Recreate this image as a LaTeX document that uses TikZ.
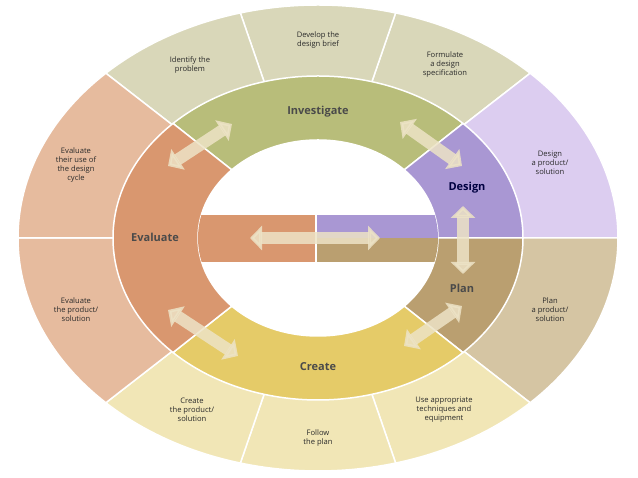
\documentclass[tikz,border=0pt]{standalone}
\usepackage{fontspec}
\setmainfont{Open Sans}
\usetikzlibrary{arrows.meta,calc}
\definecolor{otop}{HTML}{D9D7B9}
\definecolor{odes}{HTML}{DCCDF0}
\definecolor{opla}{HTML}{D5C5A3}
\definecolor{obot}{HTML}{F1E6B6}
\definecolor{oeva}{HTML}{E6BB9E}
\definecolor{minv}{HTML}{B8BD7A}
\definecolor{mdes}{HTML}{A997D3}
\definecolor{mpla}{HTML}{BA9F70}
\definecolor{mcre}{HTML}{E5CB68}
\definecolor{meva}{HTML}{D9976F}
\definecolor{arrc}{HTML}{EDE3C6}
\definecolor{txt}{HTML}{2A2A2A}
\tikzset{
 small/.style={font=\fontsize{7.6}{9}\selectfont,text=txt,align=center},
 big/.style={font=\fontsize{11}{13}\selectfont\bfseries,text=txt!85},
 arr/.style={draw=arrc,line width=12pt,opacity=0.85,{Triangle[width=24pt,length=12pt]}-{Triangle[width=24pt,length=12pt]}},
 sep/.style={draw=white,line width=1.5pt}
}
\newcommand{\wedgeo}[3]{\fill[#3,sep] (C) -- ++(#1:300pt and 233pt) arc[start angle=#1,end angle=#2,x radius=300pt,y radius=233pt] -- cycle;}
\newcommand{\wedgem}[3]{\fill[#3,sep] (C) -- ++(#1:205pt and 162pt) arc[start angle=#1,end angle=#2,x radius=205pt,y radius=162pt] -- cycle;}
\begin{document}
\begin{tikzpicture}[x=1pt,y=1pt]
\useasboundingbox (0,0) rectangle (638,478);
\coordinate (C) at (318,240);
% outer ring
\wedgeo{45}{75}{otop}
\wedgeo{75}{105}{otop}
\wedgeo{105}{135}{otop}
\wedgeo{0}{45}{odes}
\wedgeo{-45}{0}{opla}
\wedgeo{-75}{-45}{obot}
\wedgeo{-105}{-75}{obot}
\wedgeo{-135}{-105}{obot}
\wedgeo{180}{225}{oeva}
\wedgeo{135}{180}{oeva}
% middle ring
\wedgem{45}{135}{minv}
\wedgem{0}{45}{mdes}
\wedgem{-45}{0}{mpla}
\wedgem{-135}{-45}{mcre}
\wedgem{135}{225}{meva}
% hole
\fill[white,draw=white,line width=1.5pt] (C) ellipse[x radius=120pt,y radius=98pt];
\begin{scope}
\clip (C) ellipse[x radius=120pt,y radius=98pt];
\fill[meva] (150,216) rectangle (316,263);
\fill[mdes] (316,240) rectangle (480,263);
\fill[mpla] (316,216) rectangle (480,240);
\draw[white,line width=1.2pt] (316,216) -- (316,263);
\end{scope}
% arrows
\coordinate (a1) at (168,312); \coordinate (a2) at (232,354);
\coordinate (b1) at (400,356); \coordinate (b2) at (462,312);
\coordinate (c1) at (463,272); \coordinate (c2) at (463,204);
\coordinate (d1) at (404,132); \coordinate (d2) at (462,172);
\coordinate (e1) at (168,168); \coordinate (e2) at (238,122);
\coordinate (f1) at (250,240); \coordinate (f2) at (380,240);
\draw[arr] (a1) -- (a2);
\draw[arr] (b1) -- (b2);
\draw[arr] (c1) -- (c2);
\draw[arr] (d1) -- (d2);
\draw[arr] (e1) -- (e2);
\draw[arr] (f1) -- (f2);
% labels
\node[big] (linv) at (318,366) {Investigate};
\node[big,text=black!75!blue] (ldes) at (467,290) {Design};
\node[big] (lpla) at (462,190) {Plan};
\node[big] (lcre) at (318,111) {Create};
\node[big] (leva) at (155,241) {Evaluate};
\node[small] (o1) at (190,413) {Identify the\\problem};
\node[small] (o2) at (318,438) {Develop the\\design brief};
\node[small] (o3) at (445,413) {Formulate\\a design\\specification};
\node[small] (o4) at (550,315) {Design\\a product/\\solution};
\node[small] (o5) at (550,168) {Plan\\a product/\\solution};
\node[small] (o6) at (444,68) {Use appropriate\\techniques and\\equipment};
\node[small] (o7) at (318,40) {Follow\\the plan};
\node[small] (o8) at (192,68) {Create\\the product/\\solution};
\node[small] (o9) at (76,168) {Evaluate\\the product/\\solution};
\node[small] (o10) at (76,313) {Evaluate\\their use of\\the design\\cycle};
\end{tikzpicture}
\end{document}
